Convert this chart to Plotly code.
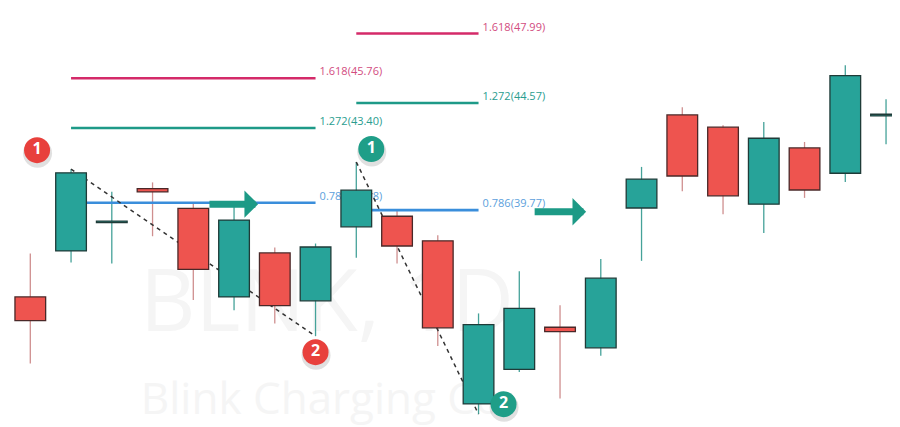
import math
import plotly.graph_objects as go

# ---- candle data (daily, log price scale) ----
idx = list(range(23))
opens  = [31.13, 36.26, 38.08, 39.24, 40.69, 39.84, 36.26, 38.00, 36.11, 39.07, 39.51, 38.49,
          32.36, 33.57, 35.11, 34.35, 39.86, 44.01, 43.44, 40.02, 42.49, 41.36, 43.96]
highs  = [34.63, 37.98, 41.54, 40.55, 40.96, 40.08, 39.91, 38.22, 38.38, 41.86, 39.77, 38.72,
          35.63, 37.27, 35.94, 37.75, 41.64, 44.37, 43.53, 43.68, 42.76, 46.40, 44.75]
lows   = [30.81, 33.78, 37.61, 37.57, 38.68, 36.14, 35.75, 35.25, 34.78, 37.80, 37.57, 34.42,
          32.01, 33.48, 32.55, 34.06, 37.68, 40.58, 39.60, 38.81, 40.29, 40.98, 42.66]
closes = [34.34, 35.36, 41.38, 39.31, 40.55, 37.34, 39.35, 35.93, 38.24, 40.62, 38.28, 35.09,
          35.21, 35.82, 34.95, 36.99, 41.10, 41.24, 40.38, 42.93, 40.63, 45.89, 44.04]

# ---- fibonacci extension levels ----
fib_ratios = ["1.618", "1.272", "0.786"]
fib_left_prices = [45.76, 43.40, 40.08]
fib_right_prices = [47.99, 44.57, 39.77]
fib_left_span = [2, 8]
fib_right_span = [9, 12]

# ---- swing points (1 -> 2) ----
swings = [(2, 8), (9, 12)]

# ---- badges: label, candle, anchor, pixel offsets (right, up), colour ----
badges = [
    ("1", 2, "high", -34, 19, "#e8403c"),
    ("1", 9, "high", 15, 13, "#1f9e88"),
    ("2", 8, "low", 0, -16, "#e8403c"),
    ("2", 12, "low", 25, 10, "#1f9e88"),
]

# ---- arrows: tail index, tip index, price ----
arrows = [(5.36, 6.59, 40.02), (13.34, 14.64, 39.70)]

GREEN = "#27a399"
RED = "#ee544f"
GREEN_WICK = "#45a299"
RED_WICK = "#cf8f8f"
GREEN_EDGE = "#1f3b38"
RED_EDGE = "#4a2828"

XR = [0.4528, 22.539]
YR = [1.49565, 1.69293]
PX_PER_X = 900 / (XR[1] - XR[0])
PX_PER_LN = 427 / ((YR[1] - YR[0]) * math.log(10))

fig = go.Figure()

# watermark (under everything)
fig.add_trace(go.Scatter(x=[8.28], y=[35.79], mode="text", text=["BLNK, 1D"],
                         textposition="middle center",
                         textfont=dict(family="Open Sans", size=86, color="#f5f5f5"),
                         hoverinfo="skip"))
fig.add_trace(go.Scatter(x=[8.28], y=[32.40], mode="text", text=["Blink Charging Co."],
                         textposition="middle center",
                         textfont=dict(family="Open Sans", size=44, color="#f5f5f5"),
                         hoverinfo="skip"))

# wicks
for up, col in [(True, GREEN_WICK), (False, RED_WICK)]:
    wx, wy = [], []
    for i in idx:
        if (closes[i] >= opens[i]) == up:
            wx += [i, i, None]
            wy += [lows[i], highs[i], None]
    fig.add_trace(go.Scatter(x=wx, y=wy, mode="lines", line=dict(color=col, width=1.3),
                             hoverinfo="skip"))

# fib lines + labels
fib_line_colors = ["#d42a69", "#1e9a88", "#3a8edb"]
fib_text_colors = ["#d24c80", "#2a9d8f", "#5c9fdc"]
for span, prices in [(fib_left_span, fib_left_prices), (fib_right_span, fib_right_prices)]:
    for r, p, lc, tc in zip(fib_ratios, prices, fib_line_colors, fib_text_colors):
        fig.add_trace(go.Scatter(x=span, y=[p, p], mode="lines",
                                 line=dict(color=lc, width=2.6), hoverinfo="skip"))
        fig.add_trace(go.Scatter(x=[span[1] + 0.1], y=[p], mode="text",
                                 text=[f"{r}({p:.2f})"], textposition="top right",
                                 textfont=dict(family="Open Sans", size=11, color=tc),
                                 hoverinfo="skip"))

# swing dashed lines
for a, b in swings:
    fig.add_trace(go.Scatter(x=[a, b], y=[highs[a], lows[b]], mode="lines",
                             line=dict(color="#333333", width=1.5, dash="4px,4px"),
                             hoverinfo="skip"))

# candle bodies on overlay axes (above lines/labels)
bases = [min(o, c) for o, c in zip(opens, closes)]
sizes = [abs(c - o) for o, c in zip(opens, closes)]
fills = [GREEN if c >= o else RED for o, c in zip(opens, closes)]
edges = [GREEN_EDGE if c >= o else RED_EDGE for o, c in zip(opens, closes)]
fig.add_trace(go.Bar(x=idx, y=sizes, base=bases, width=0.753,
                     marker=dict(color=fills, line=dict(color=edges, width=1.3)),
                     xaxis="x2", yaxis="y2", hoverinfo="skip"))

# numbered badges on top overlay axes
bx, by, sx, sy, bcol, blab = [], [], [], [], [], []
for lab, i, anc, dx, dy, col in badges:
    p = highs[i] if anc == "high" else lows[i]
    bx.append(i + dx / PX_PER_X)
    by.append(p * math.exp(dy / PX_PER_LN))
    sx.append(i + (dx + 0.5) / PX_PER_X)
    sy.append(p * math.exp((dy - 3) / PX_PER_LN))
    bcol.append(col)
    blab.append(lab)
fig.add_trace(go.Scatter(x=sx, y=sy, mode="markers", xaxis="x3", yaxis="y3",
                         marker=dict(size=29, color="rgba(0,0,0,0.12)", line=dict(width=0)),
                         hoverinfo="skip"))
fig.add_trace(go.Scatter(x=bx, y=by, mode="markers+text", xaxis="x3", yaxis="y3",
                         text=blab, textposition="middle center",
                         textfont=dict(family="Open Sans", size=16, color="white", weight="bold"),
                         marker=dict(size=26, color=bcol, line=dict(width=0)),
                         hoverinfo="skip"))

annotations = []
for tail, tip, p in arrows:
    annotations.append(dict(x=tip, y=math.log10(p), ax=tail, ay=math.log10(p),
                            xref="x", yref="y", axref="x", ayref="y", text="",
                            showarrow=True, arrowhead=1, arrowsize=0.65, arrowwidth=7,
                            arrowcolor="#1d9a86", standoff=0))

fig.update_layout(
    width=900, height=427, margin=dict(l=0, r=0, t=0, b=0),
    paper_bgcolor="white", plot_bgcolor="white", showlegend=False, barmode="overlay",
    xaxis=dict(range=XR, visible=False),
    yaxis=dict(type="log", range=YR, visible=False),
    xaxis2=dict(range=XR, visible=False, overlaying="x", anchor="y2"),
    yaxis2=dict(type="log", range=YR, visible=False, overlaying="y", anchor="x2"),
    xaxis3=dict(range=XR, visible=False, overlaying="x", anchor="y3"),
    yaxis3=dict(type="log", range=YR, visible=False, overlaying="y", anchor="x3"),
    annotations=annotations,
)

fig.write_html("out.html")
